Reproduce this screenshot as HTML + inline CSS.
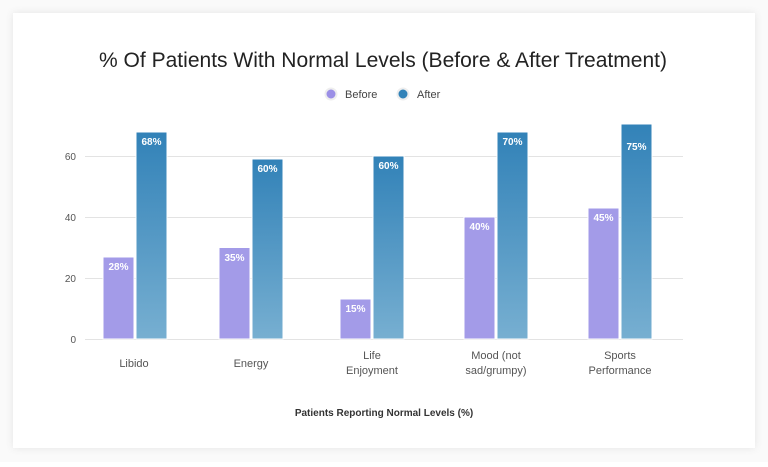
<!DOCTYPE html>
<html><head><style>
html,body{margin:0;padding:0;background:#fff;}
body{width:768px;height:462px;overflow:hidden;}
</style></head><body>
<svg width="768" height="462" xmlns="http://www.w3.org/2000/svg" font-family="Liberation Sans, sans-serif">
<defs>
<linearGradient id="g" x1="0" y1="0" x2="0" y2="1">
<stop offset="0" stop-color="#3282b8"/><stop offset="1" stop-color="#77afd1"/>
</linearGradient>
<filter id="sh" x="-5%" y="-5%" width="110%" height="110%"><feGaussianBlur stdDeviation="4"/></filter>
</defs>
<rect x="0" y="0" width="768" height="462" fill="#fafafa"/>
<rect x="13" y="13" width="742" height="435" fill="#e4e4e4" filter="url(#sh)"/>
<rect x="13" y="13" width="742" height="435" fill="#fff"/>
<text x="383" y="67" text-anchor="middle" font-size="21" fill="#222" textLength="568" lengthAdjust="spacingAndGlyphs">% Of Patients With Normal Levels (Before &amp; After Treatment)</text>
<circle cx="331" cy="94" r="5.5" fill="#9b8fe6" stroke="#eee" stroke-width="2"/>
<text x="345" y="98" font-size="11" fill="#444">Before</text>
<circle cx="403" cy="94" r="5.5" fill="#3282b8" stroke="#eee" stroke-width="2"/>
<text x="417" y="98" font-size="11" fill="#444">After</text>
<g stroke="#e3e3e3" stroke-width="1">
<line x1="85" x2="683" y1="156.5" y2="156.5"/><line x1="85" x2="683" y1="217.5" y2="217.5"/>
<line x1="85" x2="683" y1="278.5" y2="278.5"/><line x1="85" x2="683" y1="339.5" y2="339.5"/>
</g>
<g font-size="10" fill="#555" text-anchor="end">
<text x="76" y="160">60</text><text x="76" y="221">40</text><text x="76" y="282">20</text><text x="76" y="343">0</text>
</g>
<g fill="#a39be8" stroke="#fff" stroke-width="1">
<rect x="103" y="257" width="31" height="82"/>
<rect x="219" y="247.5" width="31" height="91.5"/>
<rect x="340" y="299" width="31" height="40"/>
<rect x="464" y="217" width="31" height="122"/>
<rect x="588" y="208" width="31" height="131"/>
</g>
<g fill="url(#g)" stroke="#fff" stroke-width="1">
<rect x="136" y="132" width="31" height="207"/>
<rect x="252" y="159" width="31" height="180"/>
<rect x="373" y="156" width="31" height="183"/>
<rect x="497" y="132" width="31" height="207"/>
<rect x="621" y="124" width="31" height="215"/>
</g>
<g font-size="10" font-weight="bold" fill="#fff" text-anchor="middle">
<text x="118.5" y="270">28%</text><text x="151.5" y="145">68%</text>
<text x="234.5" y="261">35%</text><text x="267.5" y="172">60%</text>
<text x="355.5" y="312">15%</text><text x="388.5" y="169">60%</text>
<text x="479.5" y="230">40%</text><text x="512.5" y="145">70%</text>
<text x="603.5" y="221">45%</text><text x="636.5" y="150">75%</text>
</g>
<g font-size="11" fill="#555" text-anchor="middle">
<text x="134" y="367">Libido</text>
<text x="251" y="367">Energy</text>
<text x="372" y="359">Life</text><text x="372" y="374">Enjoyment</text>
<text x="496" y="359">Mood (not</text><text x="496" y="374">sad/grumpy)</text>
<text x="620" y="359">Sports</text><text x="620" y="374">Performance</text>
</g>
<text x="384" y="416" text-anchor="middle" font-size="10" font-weight="bold" fill="#333">Patients Reporting Normal Levels (%)</text>
</svg>
</body></html>
